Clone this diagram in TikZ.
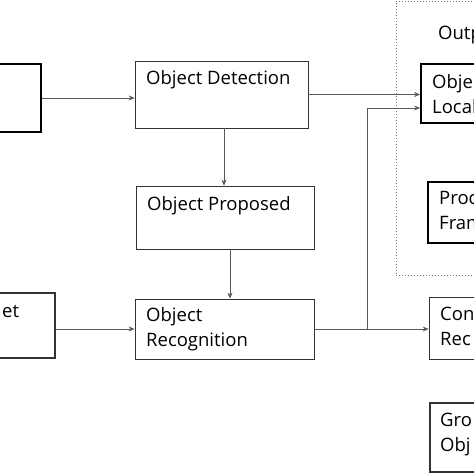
\documentclass[tikz,border=0pt]{standalone}
\usepackage{fontspec}
\setmainfont{Open Sans}
\usetikzlibrary{arrows.meta}

\begin{document}
\begin{tikzpicture}[x=1pt, y=-1pt, >={Stealth[length=6pt, width=5pt]}, font=\fontsize{18.5}{25}\selectfont]
\tikzstyle{block}=[rectangle, draw=black!80, line width=0.8pt, inner sep=0pt]
\tikzstyle{heavy}=[block, draw=black, line width=1.8pt]
\tikzstyle{group}=[rectangle, draw=black!55, dotted, line width=1pt, inner sep=0pt]
\tikzstyle{txt}=[anchor=base west, align=left, inner sep=0pt]
\tikzstyle{wire}=[draw=black!65, line width=0.7pt]
\useasboundingbox (0,0) rectangle (474,474);
\clip (0,0) rectangle (474,474);
% left column
\node[heavy, minimum width=101pt, minimum height=68pt] (src) at (-9.5,98) {};
\node[block, line width=1.2pt, minimum width=115pt, minimum height=65pt] (set) at (-2.5,325.5) {};
\node[txt] (tset) at (2,317) {et};
% middle column
\node[block, minimum width=173pt, minimum height=67pt] (det) at (221.5,94.5) {};
\node[txt] (tdet) at (146,84) {Object Detection};
\node[block, minimum width=178pt, minimum height=63pt] (prop) at (225,217.5) {};
\node[txt] (tprop) at (147,210) {Object Proposed};
\node[block, minimum width=179pt, minimum height=60pt] (rec) at (224.5,329) {};
\node[txt] (trec) at (146,346) {Object\\Recognition};
% output group (last line on the baseline)
\node[group, minimum width=144pt, minimum height=274pt] (out) at (468,138) {};
\node[txt] (tout) at (438,39) {Outp};
\node[heavy, minimum width=119pt, minimum height=59pt] (loc) at (480.5,93.5) {};
\node[txt] (tloc) at (432,113) {Obje\\Local};
\node[heavy, minimum width=112pt, minimum height=61pt] (proc) at (484,212.5) {};
\node[txt] (tproc) at (439,229) {Proc\\Fram};
% right column
\node[block, minimum width=111pt, minimum height=62pt] (con) at (484.5,328) {};
\node[txt] (tcon) at (440,345) {Con\\Rec};
\node[block, line width=1.2pt, minimum width=110pt, minimum height=69pt] (gro) at (485,437.5) {};
\node[txt] (tgro) at (440,451) {Gro\\Obj};
% connectors
\draw[wire, ->] (src.east) -- (src.east -| det.west);
\draw[wire, ->] ([xshift=2.5pt]det.south) -- ([xshift=2.5pt]det.south |- prop.north);
\draw[wire, ->] ([xshift=5pt]prop.south) -- ([xshift=5pt]prop.south |- rec.north);
\draw[wire, ->] (rec.west -| set.east) -- (rec.west);
\draw[wire, ->] (det.east) -- (det.east -| loc.west);
\draw[wire, ->] (rec.east) -- (rec.east -| con.west);
\coordinate (split) at (367,329);
\draw[wire, ->] (split) |- ([yshift=-14.5pt]loc.west);
\end{tikzpicture}
\end{document}
